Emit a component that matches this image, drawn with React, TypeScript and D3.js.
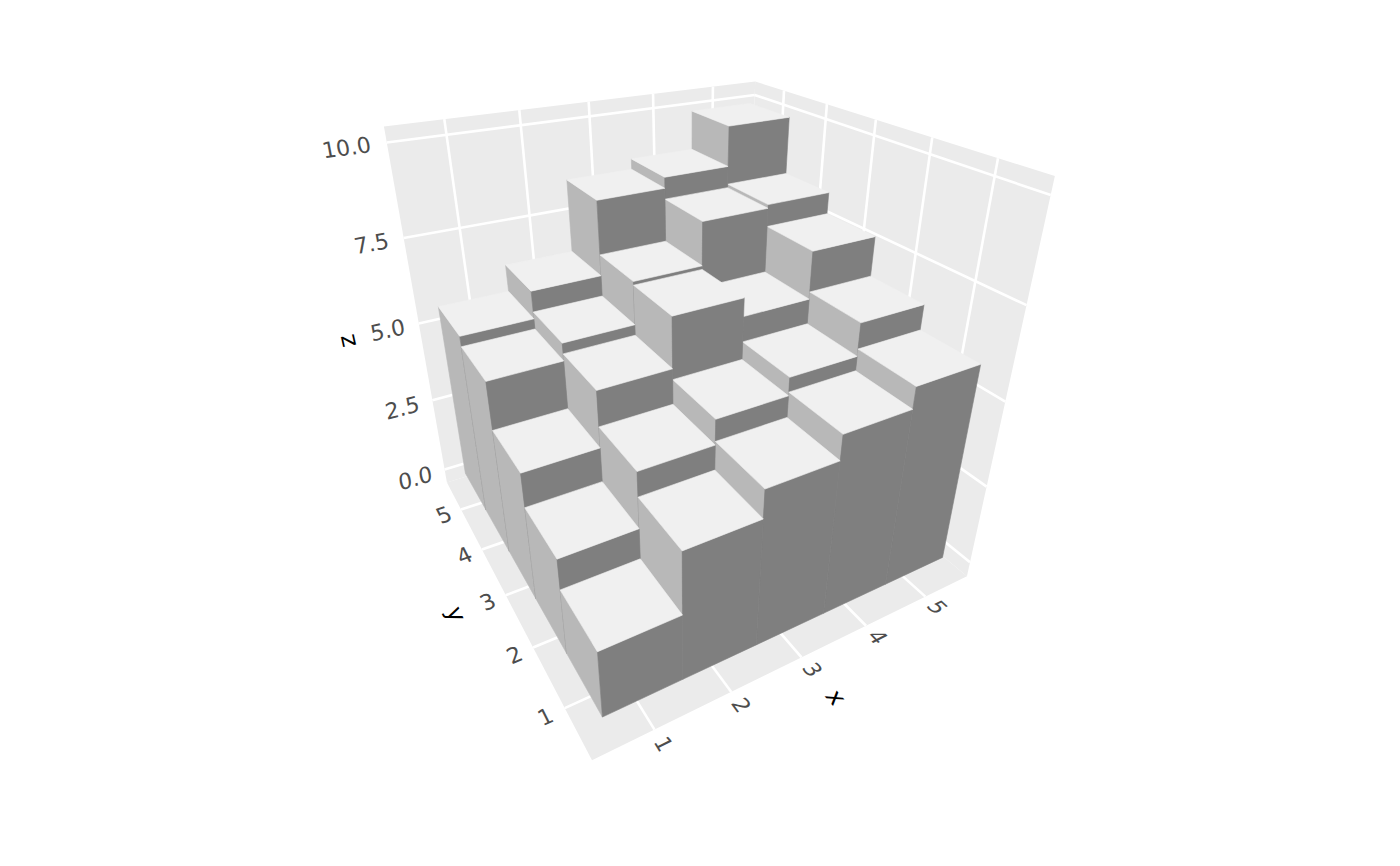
import * as d3 from 'd3'

// categories on the floor
const xCats = [1, 2, 3, 4, 5]
const yCats = [1, 2, 3, 4, 5]

// bar heights, one array per y row (values run along x = 1..5)
const zRowY1 = [2.0, 3.8, 4.6, 5.3, 5.9]
const zRowY2 = [2.9, 4.5, 5.2, 5.7, 6.6]
const zRowY3 = [3.9, 5.5, 6.9, 6.4, 7.7]
const zRowY4 = [5.3, 5.8, 7.0, 8.2, 8.3]
const zRowY5 = [5.6, 6.4, 8.5, 8.8, 9.9]
const zRows = [zRowY1, zRowY2, zRowY3, zRowY4, zRowY5]

const zTicks = [0, 2.5, 5, 7.5, 10]

const W = 1400
const H = 866

// camera: looks at the centre of the unit cube
const AZIMUTH = (60.2 * Math.PI) / 180
const ELEVATION = (29.5 * Math.PI) / 180
const DISTANCE = 1.97
const FOCAL = 840
const CX = 688
const CY = 361

type V3 = [number, number, number]

const dir: V3 = [
  Math.cos(ELEVATION) * Math.cos(AZIMUTH),
  Math.cos(ELEVATION) * Math.sin(AZIMUTH),
  -Math.sin(ELEVATION)
]
const right: V3 = [Math.sin(AZIMUTH), -Math.cos(AZIMUTH), 0]
const up: V3 = [
  Math.sin(ELEVATION) * Math.cos(AZIMUTH),
  Math.sin(ELEVATION) * Math.sin(AZIMUTH),
  Math.cos(ELEVATION)
]
const eye: V3 = [0.5 - DISTANCE * dir[0], 0.5 - DISTANCE * dir[1], 0.5 - DISTANCE * dir[2]]

const dot = (a: V3, b: V3) => a[0] * b[0] + a[1] * b[1] + a[2] * b[2]

const project = (p: V3): [number, number] => {
  const r: V3 = [p[0] - eye[0], p[1] - eye[1], p[2] - eye[2]]
  const zc = dot(r, dir)
  return [CX + (FOCAL * dot(r, right)) / zc, CY - (FOCAL * dot(r, up)) / zc]
}

// scales (ggplot style expansion)
const xLo = (d3.min(xCats) as number) - 0.5
const xHi = (d3.max(xCats) as number) + 0.5
const xPad = 0.05 * (xHi - xLo)
const xs = d3.scaleLinear().domain([xLo - xPad, xHi + xPad]).range([0, 1])
const yLo = (d3.min(yCats) as number) - 0.5
const yHi = (d3.max(yCats) as number) + 0.5
const yPad = 0.05 * (yHi - yLo)
const ys = d3.scaleLinear().domain([yLo - yPad, yHi + yPad]).range([0, 1])
const zMax = d3.max(zRows.flat()) as number
const zs = d3.scaleLinear().domain([-0.05 * zMax, zMax * 1.05]).range([0, 1])

const poly = (pts: V3[]) => {
  const line = d3.line().curve(d3.curveLinearClosed)
  return line(pts.map(project)) as string
}

const seg = (a: V3, b: V3) => {
  const p = project(a)
  const q = project(b)
  return `M${p[0]},${p[1]}L${q[0]},${q[1]}`
}

// text lying in a 3d plane: keep the on-screen directions, fixed pixel size
const TICK_PX = 22
const TITLE_PX = 24
const textMatrix = (p: V3, eb: V3, eu: V3) => {
  const o = project(p)
  const e = 0.002
  const pb = project([p[0] + eb[0] * e, p[1] + eb[1] * e, p[2] + eb[2] * e])
  const pu = project([p[0] + eu[0] * e, p[1] + eu[1] * e, p[2] + eu[2] * e])
  const bl = Math.hypot(pb[0] - o[0], pb[1] - o[1])
  const ul = Math.hypot(pu[0] - o[0], pu[1] - o[1])
  const bx = (pb[0] - o[0]) / bl
  const by = (pb[1] - o[1]) / bl
  const ux = (pu[0] - o[0]) / ul
  const uy = (pu[1] - o[1]) / ul
  return `matrix(${bx},${by},${-ux},${-uy},${o[0]},${o[1]})`
}

const PANEL = '#EBEBEB'
const GRID = '#FFFFFF'
const TOP = '#F0F0F0'
const SIDE = '#B8B8B8'
const FRONT = '#7F7F7F'
const TICK_COL = '#4D4D4D'

interface Bar {
  x: number
  y: number
  z: number
}

const bars: Bar[] = []
zRows.forEach((row, j) => row.forEach((z, i) => bars.push({ x: xCats[i], y: yCats[j], z })))
// back to front
bars.sort((a, b) => b.x + b.y - (a.x + a.y))

const App = () => {
  const z0 = zs(0)
  return (
    <svg
      width={W}
      height={H}
      style={{ position: 'absolute', left: 0, top: 0, background: '#fff' }}
      fontFamily="DejaVu Sans"
    >
      {/* panels */}
      <path d={poly([[0, 0, 0], [1, 0, 0], [1, 1, 0], [0, 1, 0]])} fill={PANEL} />
      <path d={poly([[0, 1, 0], [1, 1, 0], [1, 1, 1], [0, 1, 1]])} fill={PANEL} />
      <path d={poly([[1, 0, 0], [1, 1, 0], [1, 1, 1], [1, 0, 1]])} fill={PANEL} />
      <g stroke={GRID} strokeWidth={2.6} fill="none">
        {xCats.map(t => (
          <path key={`fx${t}`} d={seg([xs(t), 0, 0], [xs(t), 1, 0])} />
        ))}
        {yCats.map(t => (
          <path key={`fy${t}`} d={seg([0, ys(t), 0], [1, ys(t), 0])} />
        ))}
        {xCats.map(t => (
          <path key={`lx${t}`} d={seg([xs(t), 1, 0], [xs(t), 1, 1])} />
        ))}
        {zTicks.map(t => (
          <path key={`lz${t}`} d={seg([0, 1, zs(t)], [1, 1, zs(t)])} />
        ))}
        {yCats.map(t => (
          <path key={`ry${t}`} d={seg([1, ys(t), 0], [1, ys(t), 1])} />
        ))}
        {zTicks.map(t => (
          <path key={`rz${t}`} d={seg([1, 0, zs(t)], [1, 1, zs(t)])} />
        ))}
      </g>
      {/* bars */}
      <g strokeWidth={0.6} strokeLinejoin="round">
        {bars.map(b => {
          const x0 = xs(b.x - 0.5)
          const x1 = xs(b.x + 0.5)
          const y0 = ys(b.y - 0.5)
          const y1 = ys(b.y + 0.5)
          const z1 = zs(b.z)
          return (
            <g key={`b${b.x}-${b.y}`}>
              <path
                d={poly([[x0, y0, z0], [x0, y1, z0], [x0, y1, z1], [x0, y0, z1]])}
                fill={SIDE}
                stroke={SIDE}
              />
              <path
                d={poly([[x0, y0, z0], [x1, y0, z0], [x1, y0, z1], [x0, y0, z1]])}
                fill={FRONT}
                stroke={FRONT}
              />
              <path
                d={poly([[x0, y0, z1], [x1, y0, z1], [x1, y1, z1], [x0, y1, z1]])}
                fill={TOP}
                stroke={TOP}
              />
            </g>
          )
        })}
      </g>
      {/* tick labels */}
      <g fill={TICK_COL} fontSize={TICK_PX}>
        {zTicks.map(t => (
          <text
            key={`zt${t}`}
            transform={textMatrix([-0.035, 1, zs(t)], [1, 0, 0], [0, 0, 1])}
            textAnchor="end"
            dominantBaseline="central"
          >
            {d3.format('.1f')(t)}
          </text>
        ))}
        {yCats.map(t => (
          <text
            key={`yt${t}`}
            transform={textMatrix([-0.028, ys(t), 0], [1, 0, 0], [0, 1, 0])}
            textAnchor="end"
            dominantBaseline="central"
          >
            {t}
          </text>
        ))}
        {xCats.map(t => (
          <text
            key={`xt${t}`}
            transform={textMatrix([xs(t), -0.022, 0], [0, -1, 0], [1, 0, 0])}
            textAnchor="start"
            dominantBaseline="central"
          >
            {t}
          </text>
        ))}
      </g>
      {/* axis titles */}
      <g fill="#000" fontSize={TITLE_PX}>
        <text
          transform={textMatrix([0.5, -0.12, 0], [0, -1, 0], [1, 0, 0])}
          textAnchor="middle"
          dominantBaseline="central"
        >
          x
        </text>
        <text
          transform={textMatrix([-0.12, 0.5, 0], [0, -1, 0], [1, 0, 0])}
          textAnchor="middle"
          dominantBaseline="central"
        >
          y
        </text>
        <text
          transform={textMatrix([-0.175, 1, 0.5], [0, 0, 1], [-1, 0, 0])}
          textAnchor="middle"
          dominantBaseline="central"
        >
          z
        </text>
      </g>
    </svg>
  )
}

export default App
